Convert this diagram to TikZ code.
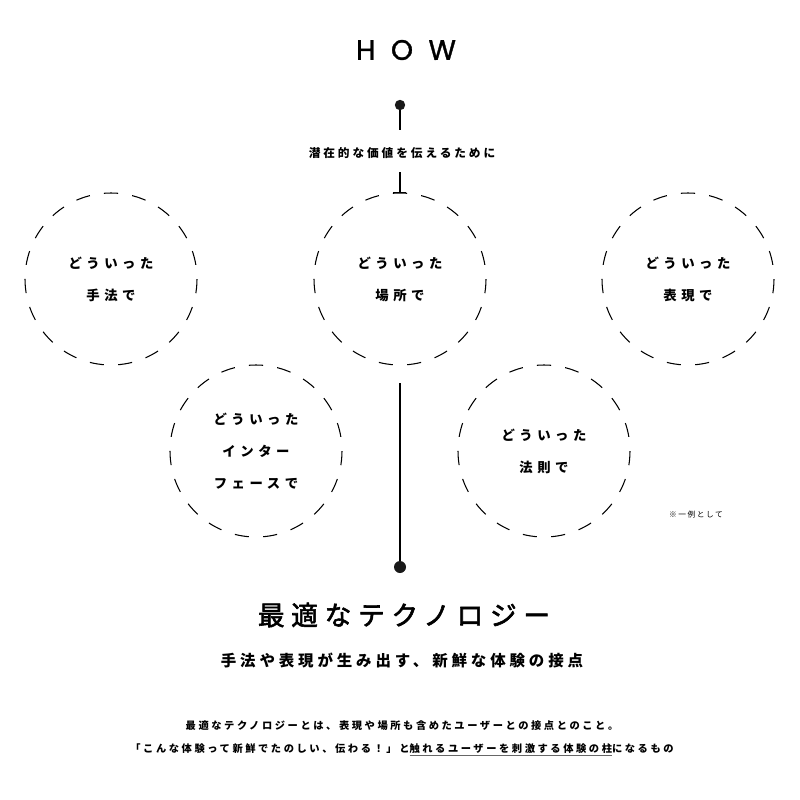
\documentclass[tikz,border=0pt]{standalone}
\usepackage{fontspec}
\setmainfont{Noto Sans CJK JP}
\newfontfamily\howfont{Poppins}[FakeBold=1.2]
\newfontfamily\midfont{Noto Sans CJK JP}[FakeBold=2.2]
\usetikzlibrary{positioning}

\begin{document}
\begin{tikzpicture}[line join=round,line cap=round,
  ring/.style={circle,draw,line width=0.75pt,line cap=butt,minimum size=4.3cm,inner sep=0pt,
    dash pattern=on 0.3555cm off 0.3555cm,dash phase=0.3555cm,align=center,
    font=\fontsize{9.5}{22.7}\selectfont\bfseries\addfontfeature{LetterSpace=34}},
  knob/.style={circle,fill=black!90,inner sep=0pt,minimum size=0.26cm},
  stem/.style={line width=0.8pt,line cap=butt},
  caption/.style={font=\fontsize{#1}{#1}\selectfont\bfseries\addfontfeature{LetterSpace=25}}]
  \useasboundingbox (0,0) rectangle (20,-20);
  %% title and top connector
  \node[font=\howfont\fontsize{20}{20}\selectfont\addfontfeature{LetterSpace=55}] (how) at (10.15,-1.25) {HOW};
  \node[knob] (topdot) at (10,-2.625) {};
  \node[caption=8.3] (reason) at (10.05,-3.83) {潜在的な価値を伝えるために};
  %% the five circles
  \node[ring] (method) at (2.775,-6.975) {どういった\\手法で};
  \node[ring] (place) at (10,-6.975) {どういった\\場所で};
  \node[ring] (expr) at (17.2,-6.975) {どういった\\表現で};
  \node[ring] (iface) at (6.4,-11.275) {どういった\\インター\\フェースで};
  \node[ring] (law) at (13.6,-11.275) {どういった\\法則で};
  \node[font=\fontsize{5.5}{5.5}\selectfont\addfontfeature{LetterSpace=20}] (note) at (17.4,-12.875) {※一例として};
  %% bottom connector
  \node[knob,minimum size=0.3cm] (botdot) at (10,-14.175) {};
  \coordinate (topend) at (10,-3.25);
  \coordinate (tstart) at (10,-4.3);
  \coordinate (lstart) at (10,-9.575);
  \draw[stem] (topdot) -- (topend);
  \draw[stem] (tstart) -- (place.north);
  \draw[stem] ([xshift=-0.17cm]place.north) -- ([xshift=0.15cm]place.north);
  \draw[stem] (lstart) -- (botdot);
  %% result
  \node[font=\midfont\fontsize{19}{19}\selectfont\addfontfeature{LetterSpace=25}] (tech) at (10.1,-15.375) {最適なテクノロジー};
  \node[caption=11] (point) at (10.05,-16.5) {手法や表現が生み出す、新鮮な体験の接点};
  \node[caption=7.3] (line1) at (10.05,-18.15) {最適なテクノロジーとは、表現や場所も含めたユーザーとの接点とのこと。};
  \node[caption=7.3] (line2) at (10.05,-18.75) {「こんな体験って新鮮でたのしい、伝わる！」と{\color{black!60}\underline{\color{black}触れるユーザーを刺激する体験の柱}}になるもの};
\end{tikzpicture}
\end{document}
